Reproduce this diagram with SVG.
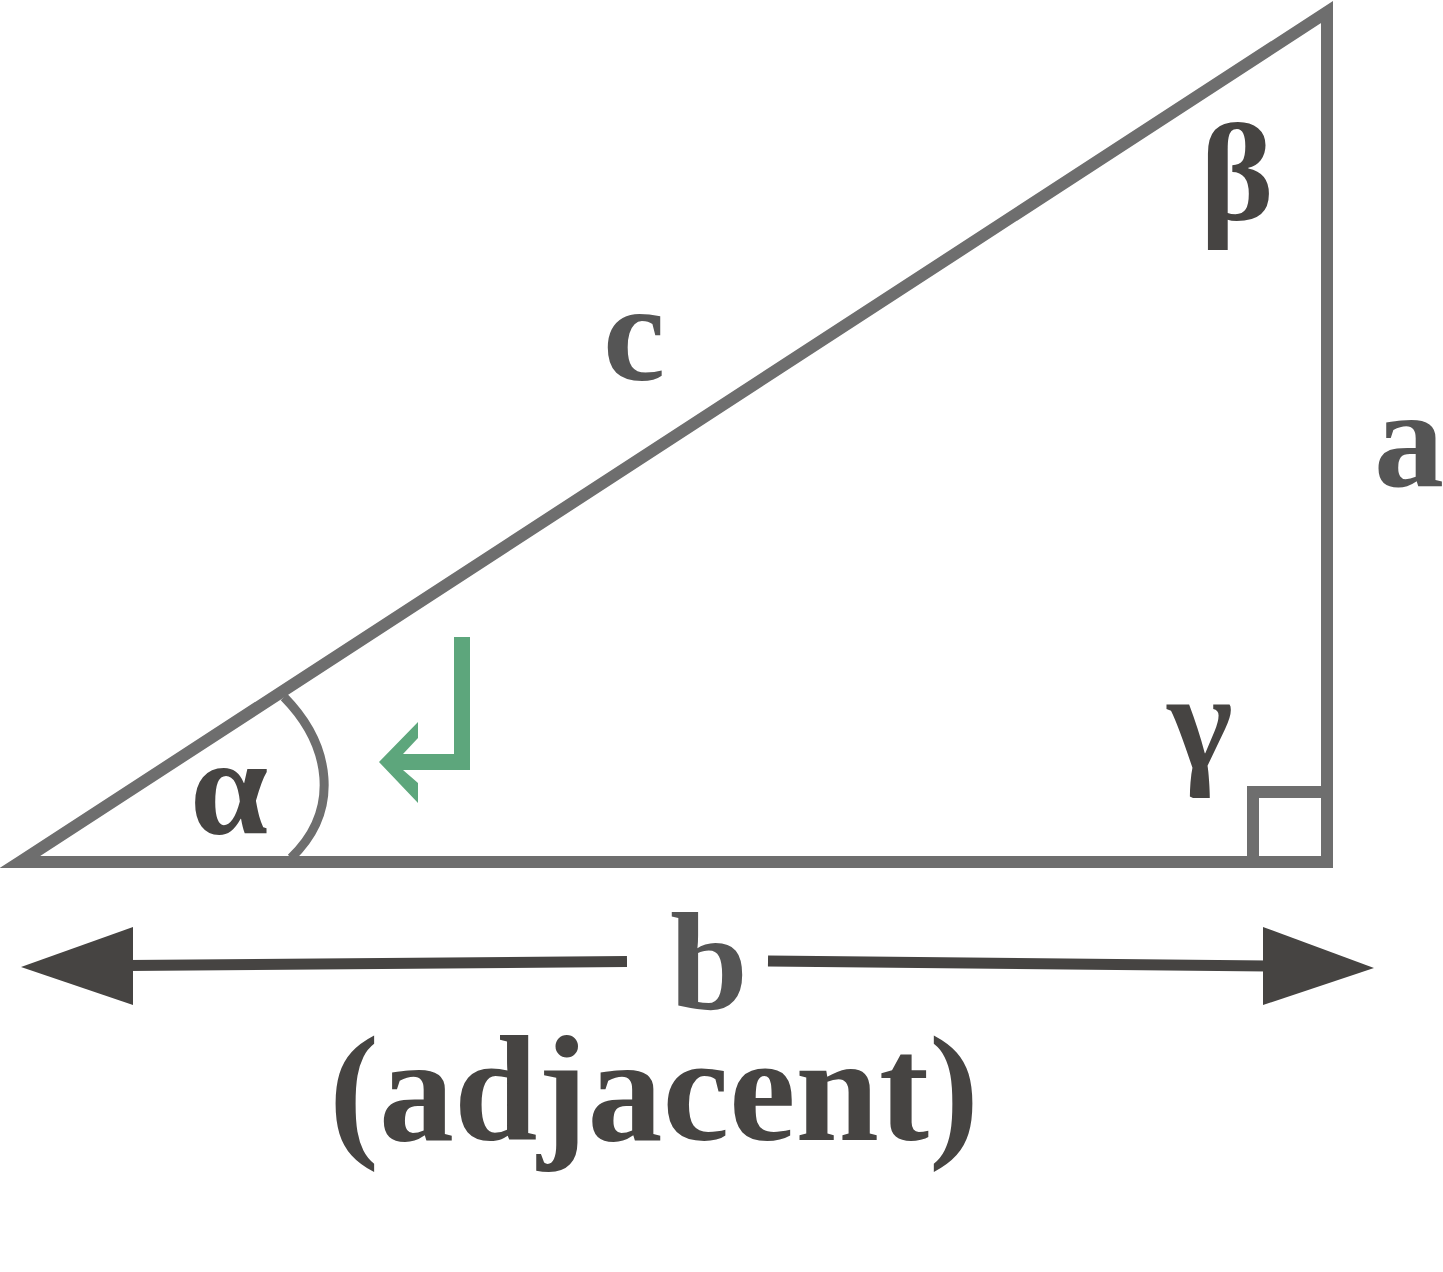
<svg xmlns="http://www.w3.org/2000/svg" width="1443" height="1272" viewBox="0 0 1443 1272">
<style>
.edge{fill:none;stroke:#6e6e6e;stroke-width:12;stroke-linejoin:miter;stroke-miterlimit:6}
.lbl{font-family:"Liberation Serif","Times New Roman",serif;font-weight:bold;text-anchor:middle}
.lt{fill:#555555}
.dk{fill:#464442}
</style>
<rect width="1443" height="1272" fill="#ffffff"/>
<g id="triangle">
<polygon class="edge" points="20,862 1327,12 1327,862"/>
<path class="edge" d="M1253,862 V792 H1327"/>
<path d="M284,697 C331,745 341,810 291,858" fill="none" stroke="#6e6e6e" stroke-width="9"/>
</g>
<g id="green-arrow">
<polygon fill="#5da67c" points="379,762 418,722 418,738 403,754 454,754 454,637 470,637 470,770 403,770 418,783 418,803"/>
</g>
<g id="connectors">
<line x1="128" y1="965.5" x2="627" y2="961.5" stroke="#464442" stroke-width="11"/>
<line x1="768" y1="961" x2="1268" y2="966" stroke="#464442" stroke-width="11"/>
<polygon fill="#464442" points="21,967 133,927 133,1005"/>
<polygon fill="#464442" points="1374,968 1263,927 1263,1005"/>
</g>
<g id="labels">
<text class="lbl lt" x="634" y="380" font-size="140">c</text>
<text class="lbl lt" x="1409" y="486" font-size="140">a</text>
<text class="lbl lt" x="709" y="1009" font-size="140">b</text>
<text class="lbl dk" x="1237" y="220" font-size="140">β</text>
<text class="lbl dk" x="1200" y="768" font-size="140">γ</text>
<text class="lbl dk" x="229" y="834" font-size="140">α</text>
<text class="lbl dk" x="654" y="1140" font-size="150">(adjacent)</text>
</g>
</svg>
